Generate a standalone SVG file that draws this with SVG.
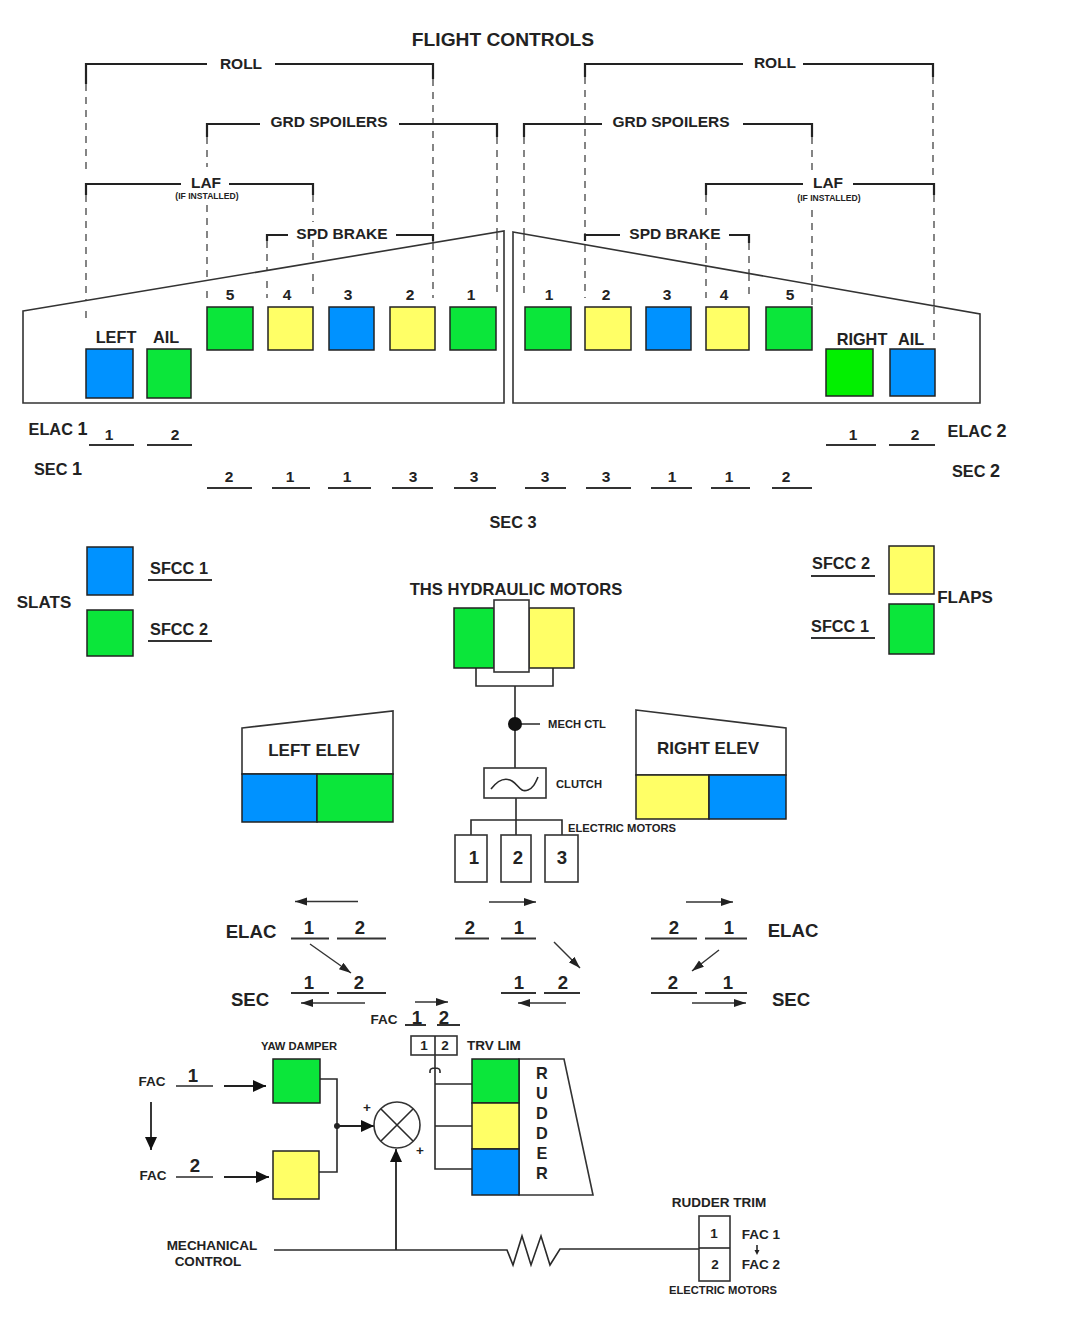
<svg xmlns="http://www.w3.org/2000/svg" width="1080" height="1342" viewBox="0 0 1080 1342">
<defs>
<style>
text{font-family:"Liberation Sans",Arial,sans-serif;font-weight:700;fill:#222;text-anchor:middle}
.s8{font-size:8.6px}.s11{font-size:11.2px}.s13{font-size:13.5px}.s15{font-size:15.5px}.s16{font-size:16.3px}.s17{font-size:17px}.s18{font-size:18.6px}.s19{font-size:19.2px}.e{font-size:17px}.h{font-size:16.6px}
.l{text-anchor:start}
.w{fill:none;stroke:#2a2a2a;stroke-width:1.6}
.b{fill:none;stroke:#222;stroke-width:2.2}
.d{fill:none;stroke:#444;stroke-width:1.3;stroke-dasharray:7 6}
.u{fill:none;stroke:#333;stroke-width:2}
.o{fill:#fff;stroke:#333;stroke-width:1.6}
.g,.y,.c,.n{stroke:#222;stroke-width:1.5}
.g{fill:#0be63a}.y{fill:#ffff66}.c{fill:#0092ff}.n{fill:#02f000}
.a{fill:none;stroke:#333;stroke-width:1.4;marker-end:url(#sm)}
.A{fill:none;stroke:#222;stroke-width:1.8;marker-end:url(#lg)}
</style>
<marker id="sm" markerUnits="userSpaceOnUse" markerWidth="14" markerHeight="10" refX="12" refY="4" orient="auto"><path d="M0 0L12 4L0 8Z" fill="#222"/></marker>
<marker id="lg" markerUnits="userSpaceOnUse" markerWidth="16" markerHeight="14" refX="13" refY="6" orient="auto"><path d="M0 0L13 6L0 12Z" fill="#111"/></marker>
</defs>
<rect width="1080" height="1342" fill="#fff"/>
<text id="title" class="s19" x="503" y="46">FLIGHT CONTROLS</text>

<g id="connectors">
<path class="d" d="M86 84V175M86 195V318M433 79V298M207 137V167M207 205V298M497 137V297M313 195V222M313 240V298M267 241V298M585 77V298M933 77V175M934 195V346M524 137V298M812 137V173M812 210V307M706 195V218M706 243V298M749 243V298"/>
<path class="b" d="M86 84V64H207M275 64H433V79M207 137V124H260M399 124H497V137M86 195V184H181M229 184H313V195M267 241V235H288M396 235H433V241"/>
<path class="b" d="M585 77V64H743M803 64H933V77M524 137V124H602M743 124H812V137M706 195V184H803M853 184H934V195M585 241V235H620M729 235H749V243"/>
<path class="u" d="M89 445H134M147 445H192M826 445H876M889 445H935M207 488H252M272 488H310M328 488H371M392 488H433M454 488H496M525 488H566M586 488H631M651 488H692M711 488H750M772 488H812"/>
<path class="u" d="M148 580H212M148 641H212M811 576H875M811 638H875"/>
<path class="w" d="M476 668V686H553V668M515 686V768M515 724H540M516 798V820M471 835V820H562V835M516 820V835"/>
<path class="u" d="M291 938.500H329M337 938.500H386M455 938.500H489M501 938.500H536M651 938.500H697M705 938.500H747M291 993H329M337 993H386M501 993H536M544 993H580M651 993H697M705 993H747M405 1025H426M437 1025H460"/>
<path class="a" d="M358 901.500H295"/><path class="a" d="M489 902H536"/><path class="a" d="M686 902H733"/>
<path class="a" d="M310 944L351 973"/><path class="a" d="M554 942L580 968"/><path class="a" d="M719 950L692 971"/>
<path class="a" d="M365 1003H301"/><path class="a" d="M566 1003H518"/><path class="a" d="M692 1003H746"/><path class="a" d="M415 1002H448"/>
<path class="w" d="M176 1086H213M176 1177H213"/>
<path class="A" d="M224 1086H266"/><path class="A" d="M224 1177H269"/><path class="A" d="M151 1102V1150"/>
<path class="w" d="M320 1079H337V1172H319"/>
<circle cx="337" cy="1126" r="3" fill="#222"/>
<path class="A" d="M337 1126H374"/>
<path class="A" d="M396 1250V1149"/>
<path class="w" d="M274 1250H507L513 1265L522 1236L531 1265L541 1236L550 1265L560 1249H700"/>
<path class="w" d="M435 1055V1169H472M435 1084H472M435 1126H472M430 1073V1071Q430 1068 435 1068Q440 1068 440 1071V1073"/>
<path class="w" d="M757 1245V1251"/><path d="M754.500 1250H759.500L757 1255Z" fill="#222"/>
</g>

<g id="left-wing">
<path class="o" d="M23 311L504 231V403H23Z"/>
<path class="d" d="M86 311V318M207 291V298M267 281V298M313 274V298M433 243V298M497 233V297"/>
<rect class="c" x="86" y="349" width="47" height="49"/><rect class="g" x="147" y="349" width="44" height="49"/>
<rect class="g" x="207" y="307" width="46" height="43"/><rect class="y" x="268" y="307" width="45" height="43"/><rect class="c" x="329" y="307" width="45" height="43"/><rect class="y" x="390" y="307" width="45" height="43"/><rect class="g" x="450" y="307" width="46" height="43"/>
<text class="s16" x="116" y="343">LEFT</text><text class="s16" x="166" y="343">AIL</text>
<text class="s15" x="230" y="300">5</text><text class="s15" x="287" y="300">4</text><text class="s15" x="348" y="300">3</text><text class="s15" x="410" y="300">2</text><text class="s15" x="471" y="300">1</text>
</g>

<g id="right-wing">
<path class="o" d="M513 232L980 314V403H513Z"/>
<path class="d" d="M524 234V298M585 245V298M706 266V298M749 274V298M812 285V307M934 307V346"/>
<rect class="g" x="525" y="307" width="46" height="43"/><rect class="y" x="585" y="307" width="46" height="43"/><rect class="c" x="646" y="307" width="45" height="43"/><rect class="y" x="706" y="307" width="43" height="43"/><rect class="g" x="766" y="307" width="46" height="43"/>
<rect class="n" x="826" y="349" width="47" height="47"/><rect class="c" x="890" y="349" width="45" height="47"/>
<text class="s16" x="862" y="345">RIGHT</text><text class="s16" x="911" y="345">AIL</text>
<text class="s15" x="549" y="300">1</text><text class="s15" x="606" y="300">2</text><text class="s15" x="667" y="300">3</text><text class="s15" x="724" y="300">4</text><text class="s15" x="790" y="300">5</text>
</g>

<g id="function-labels">
<text class="s15" x="241" y="69">ROLL</text><text class="s15" x="775" y="68">ROLL</text>
<text class="s15" x="329" y="127">GRD SPOILERS</text><text class="s15" x="671" y="127">GRD SPOILERS</text>
<text class="s15" x="206" y="188">LAF</text><text class="s15" x="828" y="188">LAF</text>
<text class="s8" x="207" y="199">(IF INSTALLED)</text><text class="s8" x="829" y="201">(IF INSTALLED)</text>
<text class="s15" x="342" y="239">SPD BRAKE</text><text class="s15" x="675" y="239">SPD BRAKE</text>
</g>

<g id="computers">
<text class="s16" x="58" y="435">ELAC <tspan font-size="18">1</tspan></text>
<text class="s16" x="58" y="475">SEC <tspan font-size="18">1</tspan></text>
<text class="s16" x="977" y="437">ELAC <tspan font-size="18">2</tspan></text>
<text class="s16" x="976" y="477">SEC <tspan font-size="18">2</tspan></text>
<text class="s15" x="109" y="440">1</text><text class="s15" x="175" y="440">2</text><text class="s15" x="853" y="440">1</text><text class="s15" x="915" y="440">2</text>
<text class="s15" x="229" y="482">2</text><text class="s15" x="290" y="482">1</text><text class="s15" x="347" y="482">1</text><text class="s15" x="413" y="482">3</text><text class="s15" x="474" y="482">3</text><text class="s15" x="545" y="482">3</text><text class="s15" x="606" y="482">3</text><text class="s15" x="672" y="482">1</text><text class="s15" x="729" y="482">1</text><text class="s15" x="786" y="482">2</text>
<text class="s16" x="513" y="528">SEC 3</text>
</g>

<g id="slats">
<text class="s17" x="44" y="608">SLATS</text>
<rect class="c" x="87" y="547" width="46" height="48"/><rect class="g" x="87" y="610" width="46" height="46"/>
<text class="s16" x="179" y="574">SFCC 1</text><text class="s16" x="179" y="635">SFCC 2</text>
</g>
<g id="flaps">
<rect class="y" x="889" y="546" width="45" height="48"/><rect class="g" x="889" y="604" width="45" height="50"/>
<text class="s16" x="841" y="569">SFCC 2</text><text class="s16" x="840" y="632">SFCC 1</text>
<text class="s17" x="965" y="603">FLAPS</text>
</g>

<g id="ths">
<text class="h" x="516" y="595">THS HYDRAULIC MOTORS</text>
<rect class="g" x="454" y="608" width="40" height="60"/><rect class="y" x="529" y="608" width="45" height="60"/>
<rect class="o" x="494" y="600" width="35" height="72"/>
<circle cx="515" cy="724" r="7" fill="#111"/>
<text class="s11" x="577" y="728">MECH CTL</text>
<rect class="o" x="484" y="768" width="62" height="30"/>
<path class="w" d="M491 789C498 780 505 777 512 781C519 785 520 793 528 790C533 788 535 784 538 777"/>
<text class="s11" x="579" y="788">CLUTCH</text>
<text class="s11" x="622" y="832">ELECTRIC MOTORS</text>
<rect class="o" x="455" y="835" width="32" height="47"/><rect class="o" x="501" y="835" width="30" height="47"/><rect class="o" x="545" y="835" width="33" height="47"/>
<text class="s18" x="474" y="864">1</text><text class="s18" x="518" y="864">2</text><text class="s18" x="562" y="864">3</text>
</g>

<g id="left-elev">
<path class="o" d="M242 728L393 711V774H242Z"/>
<rect class="c" x="242" y="774" width="75" height="48"/><rect class="g" x="317" y="774" width="76" height="48"/>
<text class="e" x="314" y="756">LEFT ELEV</text>
</g>
<g id="right-elev">
<path class="o" d="M636 710L786 728V775H636Z"/>
<rect class="y" x="636" y="775" width="73" height="44"/><rect class="c" x="709" y="775" width="77" height="44"/>
<text class="e" x="708" y="754">RIGHT ELEV</text>
</g>

<g id="elevator-computers">
<text class="s18" x="251" y="938">ELAC</text><text class="s18" x="793" y="937">ELAC</text>
<text class="s18" x="250" y="1006">SEC</text><text class="s18" x="791" y="1006">SEC</text>
<text class="s18" x="309" y="934">1</text><text class="s18" x="360" y="934">2</text><text class="s18" x="470" y="934">2</text><text class="s18" x="519" y="934">1</text><text class="s18" x="674" y="934">2</text><text class="s18" x="729" y="934">1</text>
<text class="s18" x="309" y="989">1</text><text class="s18" x="359" y="989">2</text><text class="s18" x="519" y="989">1</text><text class="s18" x="563" y="989">2</text><text class="s18" x="673" y="989">2</text><text class="s18" x="728" y="989">1</text>
<text class="s13" x="384" y="1024">FAC</text><text class="s18" x="417" y="1024">1</text><text class="s18" x="444" y="1024">2</text>
</g>

<g id="trv-lim">
<rect class="o" x="411" y="1036" width="46" height="19"/><path class="w" d="M435 1036V1055"/>
<text class="s13" x="424" y="1050">1</text><text class="s13" x="445" y="1050">2</text>
<text class="s13 l" x="467" y="1050">TRV LIM</text>
</g>

<g id="yaw-damper">
<text class="s11" x="299" y="1050">YAW DAMPER</text>
<text class="s13" x="152" y="1086">FAC</text><text class="s13" x="153" y="1180">FAC</text>
<text class="s18" x="193" y="1082">1</text><text class="s18" x="195" y="1172">2</text>
<rect class="g" x="273" y="1059" width="47" height="44"/><rect class="y" x="273" y="1151" width="46" height="48"/>
</g>

<g id="summing">
<circle class="o" cx="397" cy="1125" r="23"/>
<path class="w" d="M381 1109L413 1141M413 1109L381 1141"/>
<text class="s13" x="367" y="1112">+</text><text class="s13" x="420" y="1155">+</text>
</g>

<g id="rudder">
<path class="o" d="M519 1059H564L593 1195H519Z"/>
<rect class="g" x="472" y="1059" width="47" height="44"/><rect class="y" x="472" y="1103" width="47" height="46"/><rect class="c" x="472" y="1149" width="47" height="46"/>
<text class="s16" x="542" y="1079">R</text><text class="s16" x="542" y="1099">U</text><text class="s16" x="542" y="1119">D</text><text class="s16" x="542" y="1139">D</text><text class="s16" x="542" y="1159">E</text><text class="s16" x="542" y="1179">R</text>
</g>

<g id="mechanical-control">
<text class="s13" x="212" y="1250">MECHANICAL</text><text class="s13" x="208" y="1266">CONTROL</text>
</g>

<g id="rudder-trim">
<text class="s13" x="719" y="1207">RUDDER TRIM</text>
<rect class="o" x="699" y="1216" width="31" height="65"/><path class="w" d="M699 1248H730"/>
<text class="s13" x="714" y="1238">1</text><text class="s13" x="715" y="1269">2</text>
<text class="s13" x="761" y="1239">FAC 1</text><text class="s13" x="761" y="1269">FAC 2</text>
<text class="s11" x="723" y="1294">ELECTRIC MOTORS</text>
</g>
</svg>
